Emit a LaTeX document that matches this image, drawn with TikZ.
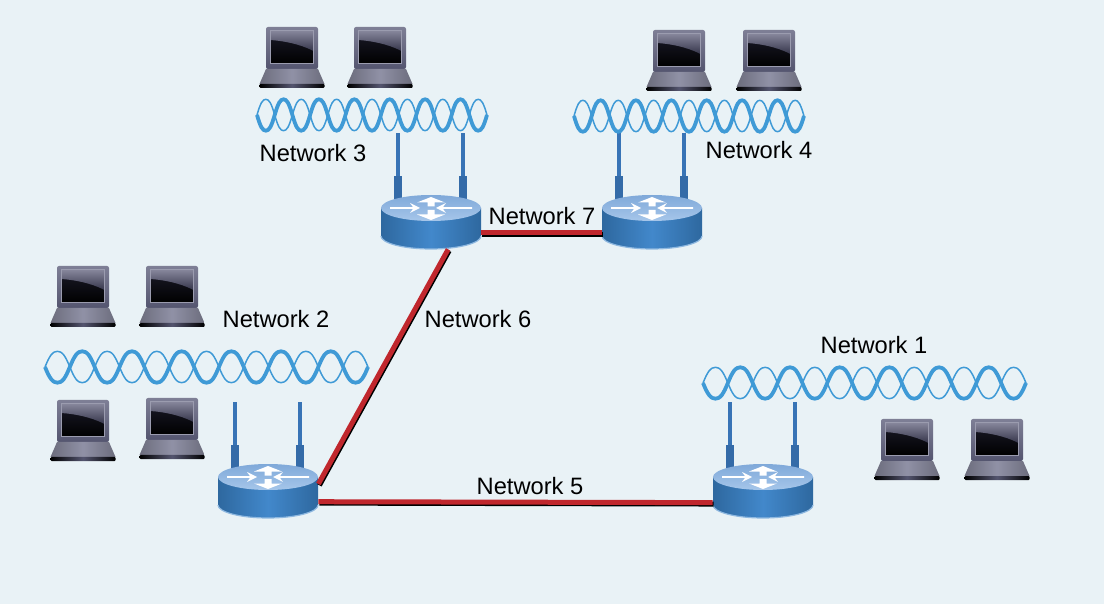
\documentclass[tikz,border=0pt]{standalone}
\usepackage{fontspec}
\setmainfont{Liberation Sans}
\usetikzlibrary{arrows.meta}
\definecolor{bgblue}{HTML}{E9F2F6}
\definecolor{wavecol}{HTML}{3F9AD6}
\definecolor{bodymid}{HTML}{4288CB}
\definecolor{bodydark}{HTML}{2E689F}
\definecolor{toplight}{HTML}{A6C6EA}
\definecolor{topdark}{HTML}{7FA9D9}
\definecolor{antcol}{HTML}{3874B6}
\definecolor{linkred}{HTML}{C0272D}
\definecolor{lidcol}{HTML}{54556F}
\definecolor{deckcol}{HTML}{9091A6}
\definecolor{glaretop}{HTML}{85859A}
\definecolor{glarelow}{HTML}{35354A}
\definecolor{screentop}{HTML}{1A1A28}
\tikzset{
  router/.pic={
    \fill[antcol] (-35,-75) rectangle (-31,-30);
    \fill[antcol] (30,-75) rectangle (34,-30);
    \fill[antcol!92!black] (-37,-32) rectangle (-29,0);
    \fill[antcol!92!black] (28,-32) rectangle (36,0);
    \shade[left color=bodydark,right color=bodydark,middle color=bodymid]
      (-50,0) -- (-50,28) arc[start angle=180,end angle=0,x radius=50,y radius=13]
      -- (50,0) -- cycle;
    \draw[bodymid!60!white,line width=0.6pt]
      (-50,28) arc[start angle=180,end angle=0,x radius=50,y radius=13];
    \shade[top color=topdark,bottom color=toplight] (0,0) ellipse[x radius=50,y radius=13];
    \fill[white] (0,-11) -- (14,-5.5) -- (3.5,-5.5) -- (3.5,-1.5) -- (-3.5,-1.5) -- (-3.5,-5.5) -- (-14,-5.5) -- cycle;
    \fill[white] (0,12) -- (14,6.5) -- (3.5,6.5) -- (3.5,2) -- (-3.5,2) -- (-3.5,6.5) -- (-14,6.5) -- cycle;
    \fill[white] (-11,0) -- (-21,-5) -- (-18,-0.9) -- (-41,-0.9) -- (-41,0.9) -- (-18,0.9) -- (-21,5) -- cycle;
    \fill[white] (5,0) -- (15,-5) -- (12,-0.9) -- (41,-0.9) -- (41,0.9) -- (12,0.9) -- (15,5) -- cycle;
  },
  laptop/.pic={
    \shade[top color=deckcol!70!lidcol,bottom color=lidcol,rounded corners=1pt]
      (-26,0) rectangle (26,42);
    \shade[left color=deckcol!75!black,right color=deckcol!75!black,middle color=deckcol]
      (-26,42) -- (26,42) -- (32.5,57) -- (-32.5,57) -- cycle;
    \shade[left color=black,right color=black,middle color=lidcol,rounded corners=0.5pt]
      (-32.5,57) rectangle (32.5,61);
    \shade[top color=screentop,bottom color=black] (-21.5,4) rectangle (21.5,37);
    \shade[top color=glaretop,bottom color=glarelow]
      (-21.5,4) -- (21.5,4) -- (21.5,24) .. controls (8,17) and (-8,14) .. (-21.5,13) -- cycle;
    \draw[deckcol!90!white,line width=0.5pt] (-21.5,4) rectangle (21.5,37);
  },
  pics/helix/.style={code={
    \draw[wavecol,line width=0.75pt] plot[smooth,samples=105,domain=0:#1] (\x,{-16.5*(sin(\x/#1*2340)+0.05*sin(\x/#1*7020))});
    \draw[wavecol,line width=1.9pt] plot[smooth,samples=105,domain=0:#1] (\x,{16.5*(sin(\x/#1*2340)+0.05*sin(\x/#1*7020))});
  }},
}
\begin{document}
\begin{tikzpicture}[x=0.5pt,y=-0.5pt]
\tikzstyle{body} = [inner sep=0pt,minimum width=50pt,minimum height=27pt]
\tikzstyle{link} = [linkred,line width=2.5pt,preaction={draw=black,line width=2.5pt,transform canvas={shift={(0.5pt,-0.7pt)}}}]
\tikzstyle{lbl} = [font=\fontsize{11.85}{14}\selectfont,inner sep=0pt]
\fill[bgblue] (0,0) rectangle (1104,604);
\useasboundingbox (0,0) rectangle (1104,604);
% routers
\pic at (268,477) {router};
\pic at (763,477) {router};
\pic at (431,208) {router};
\pic at (652,208) {router};
\node[body] (r1) at (268,491) {};
\node[body] (r2) at (763,491) {};
\node[body] (r3) at (431,222) {};
\node[body] (r4) at (652,222) {};
% links
\draw[link] (r1.-12) -- (r2.193);
\draw[link] (r1.8) -- (r3.-58);
\draw[link] (r3.-12) -- (r4.192);
% laptops
\foreach \lx/\ly in {292/27,380/27,679/30,769/30,83/266,172/266,83/400,172/398,907/419,997/419}
  \pic at (\lx,\ly) {laptop};
% waves
\pic at (257,115) {helix=230};
\pic at (574,116) {helix=230};
\pic at (45,367) {helix=323};
\pic at (703,383) {helix=323};
% labels
\node[lbl] (n1) at (874,345) {Network 1};
\node[lbl] (n2) at (276,319) {Network 2};
\node[lbl] (n3) at (313,153) {Network 3};
\node[lbl] (n4) at (759,150) {Network 4};
\node[lbl] (n5) at (530,486) {Network 5};
\node[lbl] (n6) at (478,319) {Network 6};
\node[lbl] (n7) at (542,216) {Network 7};
\end{tikzpicture}
\end{document}
